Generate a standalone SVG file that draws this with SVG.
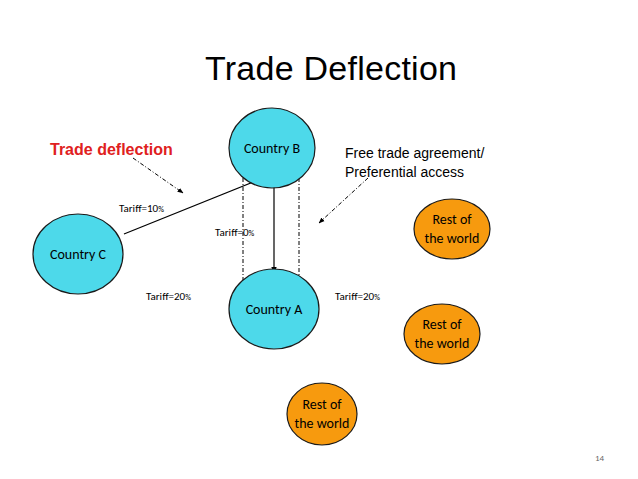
<svg xmlns="http://www.w3.org/2000/svg" width="638" height="479" viewBox="0 0 638 479">
<style>
text{font-family:Calibri,"Liberation Sans",Carlito,sans-serif;fill:#000}
.c{fill:#4dd9ea;stroke:#1a1a1a;stroke-width:1.2}
.r{fill:#f79a0e;stroke:#1a1a1a;stroke-width:1.2}
.n{font-size:14px;text-anchor:middle}
.t{font-size:11px}
.p{font-size:8px}
.dd{stroke:#000;stroke-width:1;fill:none;stroke-dasharray:4 2 1 2}
</style>
<defs>
<marker id="a" viewBox="0 0 10 10" refX="9" refY="5" markerWidth="6" markerHeight="6" orient="auto"><path d="M0,1L10,5L0,9z" fill="#000"/></marker>
</defs>
<rect width="638" height="479" fill="#fff"/>
<text x="331" y="80" font-size="34" text-anchor="middle" style="font-family:'Liberation Sans',sans-serif" textLength="252">Trade Deflection</text>
<text x="50" y="155" font-size="16" font-weight="bold" style="fill:#e02020;font-family:'Liberation Sans',sans-serif">Trade deflection</text>
<text x="345" y="158" font-size="14" style="font-family:'Liberation Sans',sans-serif">Free trade agreement/</text>
<text x="345" y="177" font-size="14" style="font-family:'Liberation Sans',sans-serif">Preferential access</text>
<g id="connectors">
<line x1="243" y1="178" x2="243" y2="280" class="dd"/>
<line x1="299" y1="178" x2="299" y2="280" class="dd"/>
<line x1="124" y1="234" x2="273" y2="174" stroke="#000" stroke-width="1.2" marker-end="url(#a)"/>
<line x1="274" y1="174" x2="274" y2="273" stroke="#000" stroke-width="1.2" marker-end="url(#a)"/>
<line x1="133" y1="158" x2="183" y2="193" class="dd" marker-end="url(#a)"/>
<line x1="368" y1="178" x2="319" y2="223" class="dd" marker-end="url(#a)"/>
</g>
<g id="countryB"><ellipse cx="272" cy="148" rx="43" ry="40" class="c"/><text x="272" y="153" class="n">Country B</text></g>
<g id="countryC"><ellipse cx="78" cy="254" rx="45" ry="40" class="c"/><text x="78" y="259" class="n">Country C</text></g>
<g id="countryA"><ellipse cx="274" cy="309" rx="45" ry="40" class="c"/><text x="274" y="314" class="n">Country A</text></g>
<g id="row1"><ellipse cx="452" cy="229" rx="38" ry="30" class="r"/><text x="452" y="224" class="n" font-size="13">Rest of</text><text x="452" y="243" class="n" font-size="13">the world</text></g>
<g id="row2"><ellipse cx="442" cy="334" rx="38" ry="30" class="r"/><text x="442" y="329" class="n" font-size="13">Rest of</text><text x="442" y="348" class="n" font-size="13">the world</text></g>
<g id="row3"><ellipse cx="322" cy="414" rx="35" ry="31" class="r"/><text x="322" y="409" class="n" font-size="13">Rest of</text><text x="322" y="428" class="n" font-size="13">the world</text></g>
<text x="119" y="212" class="t">Tariff=10<tspan class="p">%</tspan></text>
<text x="215" y="236" class="t">Tariff=0<tspan class="p">%</tspan></text>
<text x="146" y="300" class="t">Tariff=20<tspan class="p">%</tspan></text>
<text x="335" y="300" class="t">Tariff=20<tspan class="p">%</tspan></text>
<text x="604" y="461" font-size="9" text-anchor="end" style="fill:#666">14</text>
</svg>
